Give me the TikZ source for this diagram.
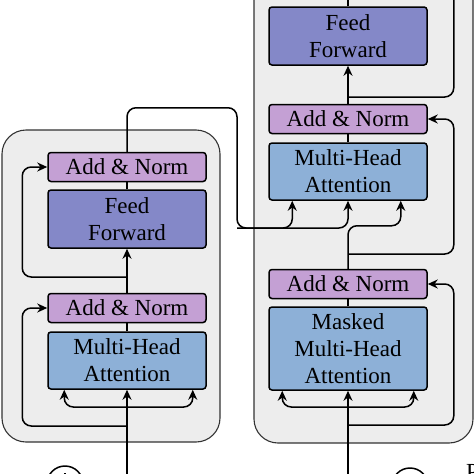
\documentclass[tikz,border=0pt]{standalone}
\usepackage{fontspec}
\setmainfont{Liberation Serif}
\usetikzlibrary{positioning, arrows.meta}
\definecolor{normc}{HTML}{C4A0D4}
\definecolor{ffc}{HTML}{8488C8}
\definecolor{attc}{HTML}{8DB0D7}
\definecolor{framec}{HTML}{EDEDED}
\tikzset{%
	blk/.style={draw, line width=1.5pt, rounded corners=3pt, minimum width=158pt,%
		inner sep=0pt, align=center, font=\fontsize{23}{27}\selectfont, text=black},
	addnorm/.style={blk, fill=normc, minimum height=29pt},
	ffwd/.style={blk, fill=ffc, minimum height=58pt},
	att/.style={blk, fill=attc, minimum height=57pt},
	frame/.style={draw=black!80, line width=1.1pt, fill=framec, rounded corners=24pt},
	connector/.style={line width=1.5pt},
	sel/.style={->, >={Stealth[length=10pt, width=9pt]}, line width=1.5pt, rounded corners=9pt},
	pe/.style={draw, circle, line width=1.5pt, minimum size=36pt}
}
\begin{document}
\begin{tikzpicture}[x=1pt, y=-1pt, node distance=8pt]
	\clip (0,0) rectangle (474,474);
	\fill[white] (0,0) rectangle (474,474);
	\draw[frame] (2,130) rectangle (220,442);
	\draw[frame] (254,-40) rectangle (473,443);

	% encoder
	\node[att] (mhaE) at (127,360.5) {Multi-Head\\Attention};
	\node[addnorm, above=of mhaE] (anE1) {Add \& Norm};
	\node[ffwd, above=44pt of anE1] (ffE) {Feed\\Forward};
	\node[addnorm, above=7pt of ffE] (anE2) {Add \& Norm};

	% decoder
	\node[att, minimum height=83pt] (mmhaD) at (348,348.5) {Masked\\Multi-Head\\Attention};
	\node[addnorm, above=7pt of mmhaD] (anD1) {Add \& Norm};
	\node[att, above=68pt of anD1] (mhaD) {Multi-Head\\Attention};
	\node[addnorm, above=of mhaD] (anD2) {Add \& Norm};
	\node[ffwd, above=38pt of anD2] (ffD) {Feed\\Forward};
	\node[addnorm, above=of ffD] (anD0) {Add \& Norm};

	\node[pe] (peE) at (65,484) {};
	\node[pe] (peD) at (410,486) {};
	\node[anchor=base west, inner sep=0pt, font=\fontsize{23}{27}\selectfont] (peText) at (466,479) {P};

	\coordinate (inE) at (127,490);
	\coordinate (jE) at (127,407);
	\coordinate (rE1) at (127,426);
	\coordinate (rE2) at (127,277);
	\coordinate (eo) at (237,228);
	\coordinate (inD) at (348,490);
	\coordinate (jD) at (348,407);
	\coordinate (rD1) at (348,425);
	\coordinate (rD2) at (348,254);
	\coordinate (rD3) at (348,97);

	\draw[sel] (inE) to (mhaE);
	\draw[sel] (jE) -| ([xshift=17pt]mhaE.south west);
	\draw[sel] (jE) -| ([xshift=-14pt]mhaE.south east);
	\draw[sel] (rE1) -| ([xshift=-25pt]anE1.west) -- (anE1.west);
	\draw[connector] (mhaE) to (anE1);
	\draw[sel] (anE1) to (ffE);
	\draw[sel] (rE2) -| ([xshift=-25pt]anE2.west) -- (anE2.west);
	\draw[connector] (ffE) to (anE2);
	\draw[sel] (anE2.north) -- ++(0,-44) -| (eo) -| ([xshift=24pt]mhaD.south west);
	\draw[sel] (eo) -| (mhaD.south);

	\draw[sel] (inD) to (mmhaD);
	\draw[sel] (jD) -| ([xshift=14pt]mmhaD.south west);
	\draw[sel] (jD) -| ([xshift=-14pt]mmhaD.south east);
	\draw[sel] (rD1) -| ([xshift=26pt]anD1.east) -- (anD1.east);
	\draw[connector] (mmhaD) to (anD1);
	\draw[sel] (anD1.north) -- ++(0,-43) -| ([xshift=-27pt]mhaD.south east);
	\draw[sel] (rD2) -| ([xshift=26pt]anD2.east) -- (anD2.east);
	\draw[connector] (mhaD) to (anD2);
	\draw[sel] (anD2) to (ffD);
	\draw[sel] (rD3) -| ([xshift=26pt]anD0.east) -- (anD0.east);
	\draw[connector] (ffD) to (anD0);
	\draw[connector] (anD0.north) -- ++(0,-30);

	\draw[connector] ([yshift=11pt]peE.center) -- ([yshift=-11pt]peE.center);
	\draw[connector] ([xshift=-11pt]peE.center) -- ([xshift=11pt]peE.center);
	\draw[connector] ([yshift=11pt]peD.center) -- ([yshift=-11pt]peD.center);
	\draw[connector] ([xshift=-11pt]peD.center) -- ([xshift=11pt]peD.center);
\end{tikzpicture}
\end{document}
